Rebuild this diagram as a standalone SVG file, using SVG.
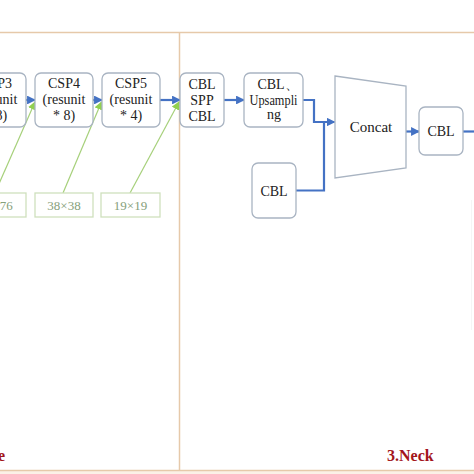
<svg xmlns="http://www.w3.org/2000/svg" width="474" height="474" viewBox="0 0 474 474">
<defs>
<marker id="ab" viewBox="0 0 10 10" refX="9" refY="5" markerWidth="4" markerHeight="4" orient="auto" markerUnits="strokeWidth"><path d="M0,0 L10,5 L0,10 z" fill="#4472c4"/></marker>
<marker id="ag" viewBox="0 0 10 10" refX="9" refY="5" markerWidth="7" markerHeight="7" orient="auto" markerUnits="strokeWidth"><path d="M0,0 L10,5 L0,10 z" fill="#92d050"/></marker>
<style>
.node{fill:#fff;stroke:#a9b4c2;stroke-width:1.3}
.t{font-family:"Liberation Serif","Times New Roman","DejaVu Serif",serif;font-size:14px;fill:#222;text-anchor:middle}
.gb{fill:#fff;stroke:#cfe0bd;stroke-width:1.3}
.gt{font-family:"Liberation Serif","Times New Roman","DejaVu Serif",serif;font-size:13px;fill:#86a07a;text-anchor:middle}
.blue{fill:none;stroke:#4472c4;stroke-width:2.2}
.arr{marker-end:url(#ab)}
.green{fill:none;stroke:#a6d07a;stroke-width:1.2;marker-end:url(#ag)}
.frame{stroke:#e6c9aa;stroke-width:1.5;fill:none}
.lab{font-family:"Liberation Serif","Times New Roman","DejaVu Serif",serif;font-size:16px;font-weight:bold;fill:#a3151b}
</style>
</defs>
<rect width="474" height="474" fill="#fff"/>
<rect x="0" y="471" width="474" height="3" fill="#fbf1e7"/>
<g id="frame">
<line class="frame" x1="0" y1="32.5" x2="474" y2="32.5"/>
<line class="frame" x1="0" y1="470.5" x2="474" y2="470.5"/>
<line class="frame" x1="179.5" y1="32" x2="179.5" y2="471"/>
<line x1="471.5" y1="200" x2="471.5" y2="330" stroke="#f5f5f5" stroke-width="1"/>
</g>
<g id="connectors">
<line class="blue arr" x1="26" y1="100" x2="35" y2="100"/>
<line class="blue arr" x1="93" y1="100" x2="102" y2="100"/>
<line class="blue arr" x1="160" y1="100" x2="180" y2="100"/>
<line class="blue arr" x1="224" y1="100" x2="244" y2="100"/>
<polyline class="blue arr" points="303,100 314,100 314,122 334.5,122"/>
<polyline class="blue" points="296,190.5 324,190.5 324,122"/>
<line class="blue arr" x1="406" y1="131.5" x2="419" y2="131.5"/>
<line class="blue" x1="463" y1="131.5" x2="476" y2="131.5"/>
<line class="green" x1="-2" y1="186" x2="35" y2="102"/>
<line class="green" x1="63" y1="193" x2="101.5" y2="102"/>
<line class="green" x1="130" y1="193" x2="179" y2="102"/>
</g>
<g id="csp3"><rect class="node" x="-33" y="73" width="59" height="54" rx="6"/>
<text class="t" x="-4" y="88">CSP3</text><text class="t" x="-4" y="104">(resunit</text><text class="t" x="-4" y="119.5">* 8)</text></g>
<g id="csp4"><rect class="node" x="35" y="73" width="58" height="54" rx="6"/>
<text class="t" x="64" y="88">CSP4</text><text class="t" x="64" y="104">(resunit</text><text class="t" x="64" y="119.5">* 8)</text></g>
<g id="csp5"><rect class="node" x="102" y="73" width="58" height="54" rx="6"/>
<text class="t" x="131" y="88">CSP5</text><text class="t" x="131" y="104">(resunit</text><text class="t" x="131" y="119.5">* 4)</text></g>
<g id="cbl_spp"><rect class="node" x="180" y="73" width="44" height="54" rx="6"/>
<text class="t" x="202" y="89">CBL</text><text class="t" x="202" y="105">SPP</text><text class="t" x="202" y="121">CBL</text></g>
<g id="cbl_up"><rect class="node" x="244" y="73" width="59" height="54" rx="6"/>
<text class="t" x="278" y="89">CBL、</text><text class="t" x="273.5" y="104.5" textLength="48" lengthAdjust="spacingAndGlyphs">Upsampli</text><text class="t" x="274" y="119">ng</text></g>
<g id="cbl_bottom"><rect class="node" x="252" y="163" width="44" height="55" rx="6"/>
<text class="t" x="274" y="195.5">CBL</text></g>
<g id="concat"><polygon points="335,76 406,86 406,168 335,178" fill="#fff" stroke="#a9b4c2" stroke-width="1.3"/>
<text class="t" x="371" y="132" style="font-size:15px">Concat</text></g>
<g id="cbl_right"><rect class="node" x="419" y="107" width="44" height="48" rx="6"/>
<text class="t" x="441" y="136">CBL</text></g>
<g id="size76"><rect class="gb" x="-33" y="193" width="59" height="24"/><text class="gt" x="-4" y="210">76×76</text></g>
<g id="size38"><rect class="gb" x="35" y="193" width="58" height="24"/><text class="gt" x="64" y="210">38×38</text></g>
<g id="size19"><rect class="gb" x="101" y="193" width="59" height="24"/><text class="gt" x="130.5" y="210">19×19</text></g>
<g id="labels">
<text class="lab" x="-2" y="461">e</text>
<text class="lab" x="387" y="461">3.Neck</text>
</g>
</svg>
